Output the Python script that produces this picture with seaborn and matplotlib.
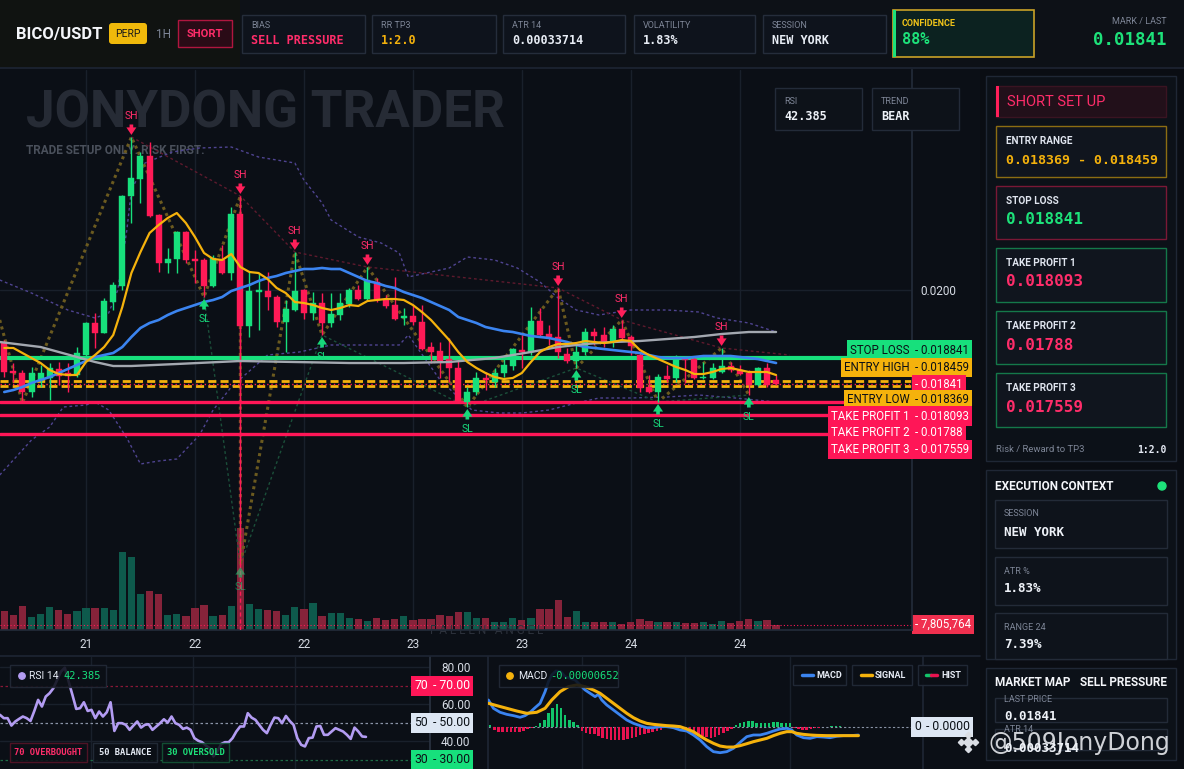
import numpy as np
import matplotlib
matplotlib.use("Agg")
import matplotlib.pyplot as plt
import seaborn as sns
from matplotlib.patches import Rectangle, FancyBboxPatch, Circle
from matplotlib.lines import Line2D
from matplotlib.transforms import Affine2D, blended_transform_factory

# ==============================================================================
# 1. Data (BICO/USDT perp, 1H)
# ==============================================================================
opens = [0.019099, 0.018623, 0.018589, 0.018266, 0.018470, 0.018504, 0.018657, 0.018589, 0.018555, 0.018895,
         0.019439, 0.019269, 0.019796, 0.020068, 0.021598, 0.021887, 0.022278, 0.021275, 0.020459, 0.020527,
         0.020986, 0.020527, 0.020510, 0.020068, 0.020510, 0.020289, 0.021292, 0.019388, 0.019966, 0.019983,
         0.019881, 0.019456, 0.019660, 0.020000, 0.019609, 0.019779, 0.019439, 0.019575, 0.019762, 0.020000,
         0.019847, 0.020136, 0.019830, 0.019745, 0.019524, 0.019558, 0.019456, 0.019031, 0.018963, 0.018827,
         0.018674, 0.018096, 0.018266, 0.018504, 0.018436, 0.018589, 0.018708, 0.018980, 0.018946, 0.019473,
         0.019252, 0.019201, 0.018912, 0.018793, 0.018946, 0.019286, 0.019235, 0.019116, 0.019337, 0.019201,
         0.018895, 0.018351, 0.018266, 0.018538, 0.018504, 0.018844, 0.018827, 0.018504, 0.018504, 0.018606,
         0.018708, 0.018640, 0.018589, 0.018385, 0.018674, 0.018470]
highs = [0.019150, 0.018759, 0.018640, 0.018691, 0.018725, 0.018759, 0.018776, 0.018759, 0.019031, 0.019456,
         0.019609, 0.019864, 0.020136, 0.021615, 0.022601, 0.022346, 0.022516, 0.021290, 0.020714, 0.021000,
         0.021000, 0.020680, 0.020544, 0.020595, 0.020765, 0.021411, 0.021598, 0.020306, 0.020289, 0.020306,
         0.019915, 0.019830, 0.020646, 0.020010, 0.019966, 0.019949, 0.019949, 0.019949, 0.020034, 0.020085,
         0.020391, 0.020204, 0.019915, 0.020221, 0.019694, 0.019745, 0.019745, 0.019116, 0.019116, 0.019184,
         0.018793, 0.018351, 0.018606, 0.018606, 0.018674, 0.018895, 0.019014, 0.019235, 0.019711, 0.019694,
         0.019405, 0.020034, 0.019014, 0.019065, 0.019354, 0.019354, 0.019371, 0.019405, 0.019490, 0.019235,
         0.018946, 0.018555, 0.018572, 0.018725, 0.018895, 0.018861, 0.018861, 0.018776, 0.018759, 0.019014,
         0.018776, 0.018725, 0.018640, 0.018691, 0.018759, 0.018555]
lows = [0.018521, 0.018436, 0.018079, 0.018181, 0.018351, 0.018130, 0.018385, 0.018266, 0.018521, 0.018861,
        0.019014, 0.019269, 0.019660, 0.020000, 0.021139, 0.021479, 0.021241, 0.020306, 0.020289, 0.020289,
        0.020459, 0.020119, 0.019881, 0.020051, 0.020270, 0.020170, 0.015325, 0.019201, 0.019320, 0.019660,
        0.019371, 0.018946, 0.019640, 0.019507, 0.019490, 0.019235, 0.019371, 0.019490, 0.019711, 0.019830,
        0.019830, 0.019796, 0.019694, 0.019490, 0.019405, 0.019405, 0.018980, 0.018759, 0.018504, 0.018436,
        0.018079, 0.018011, 0.018215, 0.018300, 0.018351, 0.018521, 0.018640, 0.018674, 0.018895, 0.019201,
        0.019065, 0.018844, 0.018759, 0.018674, 0.018895, 0.019065, 0.019031, 0.019031, 0.019150, 0.018895,
        0.018266, 0.018249, 0.018096, 0.018436, 0.018436, 0.018419, 0.018480, 0.018487, 0.018487, 0.018590,
        0.018606, 0.018555, 0.018215, 0.018368, 0.018351, 0.018385]
closes = [0.018606, 0.018589, 0.018266, 0.018589, 0.018589, 0.018674, 0.018538, 0.018538, 0.018929, 0.019439,
          0.019269, 0.019813, 0.020085, 0.021598, 0.021904, 0.022278, 0.021258, 0.020459, 0.020527, 0.020986,
          0.020510, 0.020493, 0.020068, 0.020544, 0.020289, 0.021292, 0.019388, 0.019983, 0.020000, 0.019881,
          0.019456, 0.019677, 0.019983, 0.019609, 0.019779, 0.019439, 0.019592, 0.019779, 0.020000, 0.019847,
          0.020170, 0.019830, 0.019728, 0.019507, 0.019558, 0.019456, 0.018997, 0.018946, 0.018793, 0.018674,
          0.018096, 0.018266, 0.018504, 0.018470, 0.018589, 0.018725, 0.018997, 0.018946, 0.019473, 0.019235,
          0.019201, 0.018946, 0.018793, 0.018946, 0.019286, 0.019218, 0.019116, 0.019337, 0.019184, 0.019048,
          0.018334, 0.018266, 0.018521, 0.018487, 0.018827, 0.018810, 0.018504, 0.018521, 0.018674, 0.018708,
          0.018640, 0.018572, 0.018385, 0.018674, 0.018385, 0.018410]
# volume in millions
volume = [30.4, 24.0, 38.4, 20.8, 25.6, 36.8, 32.0, 25.6, 30.4, 35.2,
          35.2, 35.2, 32.0, 124.8, 116.8, 57.6, 62.4, 57.6, 24.0, 25.6,
          22.4, 35.2, 40.0, 22.4, 24.0, 38.4, 163.2, 41.6, 33.6, 32.0,
          30.4, 24.0, 36.8, 33.6, 43.2, 22.4, 27.2, 27.2, 19.2, 17.6,
          14.4, 19.2, 16.0, 17.6, 22.4, 16.0, 17.6, 17.6, 24.0, 22.4,
          28.8, 28.8, 19.2, 19.2, 12.8, 12.8, 19.2, 16.0, 19.2, 33.6,
          33.6, 48.0, 20.8, 30.4, 12.8, 12.8, 12.8, 12.8, 9.6, 12.8,
          17.6, 14.4, 12.8, 12.8, 12.8, 11.2, 11.2, 12.8, 9.6, 14.4,
          11.2, 14.4, 17.6, 14.4, 16.0, 7.805764]

ema_fast = [0.019014, 0.019014, 0.018929, 0.018844, 0.018759, 0.018640, 0.018572, 0.018555, 0.018555, 0.018776,
            0.018895, 0.019031, 0.019235, 0.019711, 0.020289, 0.020646, 0.020969, 0.021105, 0.021224, 0.021309,
            0.021139, 0.020901, 0.020629, 0.020527, 0.020510, 0.020612, 0.020391, 0.020306, 0.020289, 0.020187,
            0.020034, 0.019949, 0.019796, 0.019779, 0.019745, 0.019694, 0.019660, 0.019694, 0.019745, 0.019728,
            0.019813, 0.019830, 0.019847, 0.019847, 0.019830, 0.019745, 0.019626, 0.019490, 0.019320, 0.019150,
            0.018946, 0.018776, 0.018674, 0.018589, 0.018521, 0.018487, 0.018504, 0.018589, 0.018776, 0.018946,
            0.019031, 0.019082, 0.019082, 0.019099, 0.019133, 0.019116, 0.019099, 0.019116, 0.019150, 0.019133,
            0.018980, 0.018895, 0.018827, 0.018759, 0.018691, 0.018640, 0.018572, 0.018572, 0.018606, 0.018657,
            0.018674, 0.018640, 0.018606, 0.018606, 0.018606, 0.018555]
ema_mid = [0.018266, 0.018300, 0.018351, 0.018419, 0.018470, 0.018521, 0.018589, 0.018657, 0.018725, 0.018793,
           0.018861, 0.018895, 0.018929, 0.019031, 0.019201, 0.019354, 0.019439, 0.019490, 0.019575, 0.019643,
           0.019694, 0.019745, 0.019796, 0.019830, 0.019881, 0.019983, 0.020034, 0.020085, 0.020153, 0.020204,
           0.020238, 0.020289, 0.020323, 0.020357, 0.020357, 0.020374, 0.020357, 0.020357, 0.020289, 0.020221,
           0.020153, 0.020119, 0.020068, 0.020034, 0.019966, 0.019915, 0.019864, 0.019796, 0.019728, 0.019660,
           0.019541, 0.019490, 0.019439, 0.019371, 0.019337, 0.019303, 0.019286, 0.019252, 0.019218, 0.019201,
           0.019184, 0.019150, 0.019116, 0.019065, 0.019031, 0.019014, 0.018997, 0.018980, 0.018963, 0.018946,
           0.018929, 0.018895, 0.018861, 0.018844, 0.018844, 0.018844, 0.018861, 0.018878, 0.018878, 0.018878,
           0.018878, 0.018861, 0.018844, 0.018827, 0.018793, 0.018759]
slow_t = [-0.5, 4, 8, 10, 12, 14, 19, 26, 32, 38, 44, 49, 54, 56, 58, 61, 64, 67, 70, 73, 76, 79, 82, 85]
slow_p = [0.019116, 0.019031, 0.018861, 0.018776, 0.018708, 0.018708, 0.018742, 0.018793, 0.018776, 0.018759,
          0.018759, 0.018776, 0.018844, 0.018895, 0.018946, 0.019031, 0.019082, 0.019116, 0.019133, 0.019167,
          0.019201, 0.019252, 0.019286, 0.019286]

bb_up_t = [-0.5, 3, 7, 10, 11.5, 12.5, 13.5, 14, 15.5, 18.5, 21.5, 25, 28, 32, 33, 35, 36, 39, 41.5, 43.5,
           44.5, 49, 51, 54, 56.5, 59, 61, 63, 65.5, 69, 73, 76.5, 78.5, 82, 85]
bb_up = [0.020170, 0.019949, 0.019660, 0.019524, 0.019609, 0.020000, 0.021020, 0.021700, 0.022159, 0.022346,
         0.022414, 0.022431, 0.022261, 0.022159, 0.021870, 0.021479, 0.021190, 0.020901, 0.020799, 0.020629,
         0.020221, 0.020374, 0.020561, 0.020510, 0.020374, 0.020136, 0.019864, 0.019660, 0.019575, 0.019660,
         0.019660, 0.019626, 0.019524, 0.019439, 0.019286]
bb_lo_t = [-0.5, 1.5, 3, 5, 6.5, 9, 10, 11.5, 13.5, 15, 17, 19, 21.5, 23, 25, 29, 32.5, 36, 43.5, 44.5,
           48, 51.5, 54.5, 57, 60, 63, 65.5, 69, 73, 76.5, 80.5, 85]
bb_lo = [0.016855, 0.017195, 0.017450, 0.017671, 0.018011, 0.018045, 0.018096, 0.017960, 0.017484, 0.017042,
         0.017093, 0.017127, 0.017535, 0.017960, 0.018351, 0.018895, 0.018946, 0.019065, 0.019065, 0.019235,
         0.018470, 0.017960, 0.017909, 0.017909, 0.017960, 0.018079, 0.018164, 0.018164, 0.018181, 0.018215,
         0.018164, 0.018096]

# swing structure
sh_idx = [14, 26, 32, 40, 61, 68, 79]
sl_idx = [22, 26, 35, 51, 63, 72, 82]
zz_t = [-0.5, 2, 14, 22, 26, 26, 32, 35, 40, 51, 61, 63, 68, 72, 79, 82]
zz_p = [0.019490, 0.018079, 0.022601, 0.019881, 0.021598, 0.015325, 0.020646, 0.019235, 0.020391, 0.018011,
        0.020034, 0.018674, 0.019490, 0.018096, 0.019014, 0.018215]
sh_tail_t, sh_tail_p = [86.5], [0.018895]

# trade plan
stop_loss = 0.018841
entry_high = 0.018459
entry_low = 0.018369
last_price = 0.01841
take_profits = [0.018093, 0.01788, 0.017559]

date_ticks = [9, 21, 33, 45, 57, 69, 81]
date_labels = ["21", "22", "22", "23", "23", "24", "24"]

# oscillators
rsi = [54.3, 52.5, 52.5, 48.5, 50.7, 52.1, 53.4, 52.5, 51.0, 56.4,
       62.4, 58.8, 64.2, 66.0, 68.7, 73.2, 77.7, 79.8, 72.3, 65.1,
       57.5, 57.9, 61.1, 56.4, 57.0, 52.5, 56.1, 53.4, 55.7, 61.1,
       45.6, 49.8, 49.8, 48.9, 46.2, 48.5, 50.7, 47.4, 48.9, 49.2,
       46.2, 48.0, 49.8, 51.9, 50.1, 53.4, 49.8, 48.9, 46.7, 47.4,
       46.2, 41.7, 40.3, 39.5, 37.7, 36.3, 31.8, 34.5, 38.5, 39.5,
       39.5, 41.7, 45.3, 48.0, 48.0, 55.2, 52.8, 51.6, 48.9, 46.2,
       44.4, 48.9, 52.8, 52.5, 49.8, 53.7, 51.0, 48.9, 41.7, 38.1,
       37.2, 41.7, 42.0, 48.0, 48.3, 43.5, 43.5, 45.3, 47.1, 46.2,
       45.3, 43.5, 41.3, 47.4, 45.3, 42.6, 42.385]
rsi_levels = [70, 50, 30]

# MACD in units of 1e-6
macd_t = [-0.4, 0.8, 2.4, 4.0, 5.6, 7.2, 8.4, 9.6, 10.8, 12.0, 13.2, 14.0, 14.8, 15.8, 17.0, 18.0, 19.2, 20.4,
          21.6, 22.8, 24.0, 25.2, 26.0, 26.8, 28.0, 29.6, 31.2, 32.8, 34.4, 36.0, 37.6, 39.2, 40.8, 42.4, 44.0,
          45.6, 47.2, 48.8, 50.4, 52.0, 53.6, 55.2, 56.8, 58.4, 60.0, 61.6, 63.2, 64.8, 66.4, 68.0, 69.6, 71.2,
          72.4, 73.6, 75.2, 76.8, 78.4, 80.0, 81.6, 83.2, 84.8, 86.4, 88.4]
macd = [20.8, 14.3, 11.2, 9.6, 8.6, 7.3, 8.6, 11.2, 14.8, 18.2, 27.3, 35.1, 40.3, 43.4, 42.9, 39.0, 37.7, 36.4,
        32.5, 28.6, 26.0, 23.4, 25.2, 20.8, 16.9, 13.0, 9.1, 5.2, 2.6, 0.8, -0.8, -0.8, 0.0, 0.0, -0.8,
        -2.6, -3.4, -6.5, -10.4, -15.6, -19.5, -20.3, -19.5, -16.9, -12.2, -7.8, -6.5, -6.5, -5.2, -3.4, -1.8, -1.3,
        -2.6, -6.5, -8.6, -9.1, -7.8, -8.1, -8.6, -7.5, -7.0, -7.0, -6.52]
signal_t = [-0.4, 1.6, 4.0, 6.4, 8.8, 11.2, 13.2, 14.8, 16.8, 18.8, 20.8, 22.8, 24.8, 26.4, 28.0, 29.6, 31.2,
            32.8, 34.4, 36.0, 37.6, 39.2, 40.8, 42.4, 44.0, 45.6, 47.2, 48.8, 50.4, 52.0, 53.6, 55.2, 56.8, 58.4,
            60.0, 61.6, 63.2, 64.8, 66.4, 68.0, 69.6, 71.2, 72.4, 73.6, 75.2, 76.8, 78.4, 80.8, 83.2, 85.6, 88.4]
signal = [18.2, 16.4, 14.3, 12.2, 10.4, 11.2, 14.3, 20.8, 27.3, 31.2, 32.5, 31.2, 28.6, 26.0, 22.1, 18.2, 14.3,
          10.4, 7.0, 4.4, 2.6, 1.8, 1.3, 0.8, 0.5, 0.0, -1.8, -3.9, -7.3, -10.4, -13.0, -15.1, -15.9, -15.9,
          -14.8, -13.3, -11.7, -10.4, -9.1, -7.0, -5.2, -3.9, -3.9, -5.2, -6.0, -6.5, -6.8, -7.0, -7.0, -7.0, -7.0]
hist = [1.3, -2.6, -3.9, -4.4, -4.4, -4.4, -4.4, -4.4, -3.4, -1.8,
        -0.8, 0.8, 2.6, 5.2, 10.4, 14.8, 17.4, 14.3, 9.1, 5.2,
        3.9, 1.3, -3.4, -5.2, -6.0, -6.0, -7.0, -9.1, -9.6, -10.4,
        -10.4, -10.4, -10.4, -9.9, -9.1, -7.8, -6.5, -6.0, -5.2, -4.4,
        -3.4, -2.6, -1.3, -0.8, -0.3, -0.5, -1.3, -2.6, -4.4, -6.0,
        -6.5, -7.0, -7.8, -8.6, -7.8, -6.5, -5.2, -3.4, -1.8, 1.3,
        2.6, 3.9, 4.7, 4.7, 3.1, 2.6, 3.1, 3.1, 3.4, 3.4,
        3.1, 3.1, 2.6, -1.3, -1.8, -2.6, -2.3, -1.8, -1.3, -0.8,
        -0.5, -0.5, 0.5, 0.5, 0.5, -0.5, -0.5, -0.5, -0.5]

# ==============================================================================
# 2. Styling
# ==============================================================================
BG = "#0b0f16"
GRID = "#19202b"
EDGE = "#232b39"
TXT = "#d6dbe4"
MUTED = "#7d8596"
GREEN = "#17e07c"
RED = "#ff1a56"
PINK = "#ff1657"
YELLOW = "#f5b20c"
BLUE = "#3b84f0"
LIGHT = "#dde6f3"
DARK = "#0b1016"

sns.set_theme(style="dark", rc={
    "axes.facecolor": BG, "figure.facecolor": BG, "axes.edgecolor": EDGE,
    "text.color": TXT, "xtick.color": TXT, "ytick.color": TXT,
})
plt.rcParams["font.family"] = ["Roboto", "DejaVu Sans"]
NARROW = ["Roboto", "DejaVu Sans"]
MONO = ["DejaVu Sans Mono"]

W, H = 1184, 769
fig = plt.figure(figsize=(W / 100, H / 100), dpi=100)
PX = Affine2D().scale(1 / W, -1 / H).translate(0, 1) + fig.transFigure


def rect(x0, y0, x1, y1):
    return [x0 / W, 1 - y1 / H, (x1 - x0) / W, (y1 - y0) / H]


def box(x0, y0, x1, y1, fc, ec="none", lw=1.0, z=20, alpha=1.0, r=0):
    if r:
        p = FancyBboxPatch((x0, y0), x1 - x0, y1 - y0, boxstyle=f"round,pad=0,rounding_size={r}",
                           transform=PX, fc=fc, ec=ec, lw=lw, zorder=z, alpha=alpha)
    else:
        p = Rectangle((x0, y0), x1 - x0, y1 - y0, transform=PX, fc=fc, ec=ec, lw=lw, zorder=z, alpha=alpha)
    fig.add_artist(p)


def txt(x, y, s, size=8, color=TXT, weight="normal", ha="left", family=None, z=21, alpha=1.0):
    kw = dict(transform=PX, fontsize=size, color=color, fontweight=weight, ha=ha, va="center",
              zorder=z, alpha=alpha)
    if family:
        kw["family"] = family
    fig.text(x, y, s, **kw)


def hline(x0, x1, y, color=EDGE, lw=1.0, z=19):
    fig.add_artist(Line2D([x0, x1], [y, y], transform=PX, color=color, lw=lw, zorder=z))


def tag(axis, yval, text, fc, tc, dy=0.0, side="right", size=8.3):
    tr = blended_transform_factory(axis.transAxes, axis.transData)
    dx = 2.0 if side == "right" else -1.5
    axis.annotate(text, xy=(1, yval), xycoords=tr, xytext=(dx, dy), textcoords="offset points",
                  ha="left" if side == "right" else "right", va="center", fontsize=size, color=tc,
                  family=NARROW, bbox=dict(boxstyle="square,pad=0.28", fc=fc, ec="none"),
                  annotation_clip=False, zorder=9)


# background blocks
box(0, 0, W, 67, "#0d1117", z=-5)
box(0, 0, 240, 67, "#12140f", z=-4.5, alpha=0.7)
box(980, 67, W, H, "#0a0d13", z=-5)
hline(0, W, 67.5, "#1e2533", 1.2, z=-4)

# ==============================================================================
# 3. Main price chart with volume underlay
# ==============================================================================
t = np.arange(len(opens))
o, hi, lo, cl = (np.array(a) for a in (opens, highs, lows, closes))
up = cl >= o
ccol = np.where(up, GREEN, RED)

ax_v = fig.add_axes(rect(0, 70, 912, 630))
ax = fig.add_axes(rect(0, 70, 912, 630), sharex=ax_v)
ax_v.set_facecolor(BG)
ax.patch.set_alpha(0)

ax_v.bar(t, volume, width=0.8, color=np.where(up, "#0e5a4c", "#86233a"), linewidth=0, zorder=2)
ax_v.axhline(volume[-1], color=RED, lw=0.8, ls=(0, (1, 2)), zorder=3)
ax_v.set_ylim(0, 896)
ax_v.set_yticks([])
ax_v.grid(axis="x", color=GRID, lw=1)
ax_v.tick_params(axis="x", labelbottom=False, length=0)
for s in ax_v.spines.values():
    s.set_visible(False)

ax.set_xlim(-0.47, 99.97)
ax.set_ylim(0.01422, 0.02374)
ax.set_xticks(date_ticks)
ax.set_xticklabels(date_labels)
ax.set_yticks([0.0200])
ax.set_yticklabels(["0.0200"])
ax.yaxis.tick_right()
ax.tick_params(axis="x", length=0, pad=6, labelsize=8.5, labelcolor=TXT)
ax.tick_params(axis="y", length=0, pad=6, labelsize=8.5, labelcolor=TXT)
ax.grid(axis="y", color=GRID, lw=1)
ax.grid(axis="x", visible=False)
for name, s in ax.spines.items():
    s.set_visible(name in ("right", "bottom"))
    s.set_color("#232b39")

# watermark text (behind candles)
ax.text(26, 113, "JONYDONG TRADER", transform=PX, fontsize=37, fontweight="bold", color="#262b35",
        family=NARROW, va="center", zorder=0.5)
ax.text(26, 150, "TRADE SETUP ONLY. RISK FIRST.", transform=PX, fontsize=8.5, fontweight="bold",
        color="#4a505b", family=NARROW, va="center", zorder=0.5)
ax.text(487, 631, "F A L L E N   A N G E L", transform=PX, fontsize=8.5, color="#2c313b",
        family=NARROW, ha="center", va="center", zorder=0.5)

# bands, swing lines
ax.plot(bb_up_t, bb_up, color="#4f4491", lw=1.0, ls=(0, (2, 2)), zorder=1.5)
ax.plot(bb_lo_t, bb_lo, color="#4f4491", lw=1.0, ls=(0, (2, 2)), zorder=1.5)
ax.plot(zz_t, zz_p, color="#6b5a1f", lw=2.2, ls=(0, (1, 1.2)), zorder=1.6)
ax.plot(sh_idx + sh_tail_t, list(hi[sh_idx]) + sh_tail_p, color="#5e1a2d", lw=1.0, ls=(0, (2, 2)), zorder=1.5)
ax.plot(sl_idx, lo[sl_idx], color="#1b4f3a", lw=1.0, ls=(0, (2, 2)), zorder=1.5)

# trade levels
ax.axhline(stop_loss, color=GREEN, lw=3.0, zorder=2.5)
for lvl in (entry_high, entry_low):
    ax.axhline(lvl, color=YELLOW, lw=2.0, ls=(0, (2.9, 1.5)), zorder=2.5)
for tp in take_profits:
    ax.axhline(tp, color=PINK, lw=2.4, zorder=2.5)
ax.axhline(last_price, color=RED, lw=1.0, ls=(0, (1, 2)), zorder=2.6)

# candles
ax.vlines(t, lo, hi, colors=ccol, lw=1.0, zorder=3)
ax.bar(t, cl - o, bottom=o, width=0.66, color=ccol, edgecolor=ccol, lw=0.3, zorder=3.1)
spike = int(np.argmin(lo))
ax.vlines(spike, 0.01422, hi[spike], colors=RED, lw=1.0, ls=(0, (3, 2)), zorder=3.2)

# moving averages
sns.lineplot(x=t, y=ema_mid, ax=ax, color=BLUE, lw=1.9, zorder=4)
sns.lineplot(x=slow_t, y=slow_p, ax=ax, color="#a3a8b0", lw=1.7, zorder=4)
sns.lineplot(x=t, y=ema_fast, ax=ax, color=YELLOW, lw=1.6, zorder=4.1)
ax.set_ylim(0.01422, 0.02374)
ax.set_xlabel("")
ax.set_ylabel("")

# swing markers
arrow = "simple,head_length=0.45,head_width=0.6,tail_width=0.22"
for i in sh_idx:
    ax.annotate("", xy=(i, hi[i]), xytext=(0, 9), textcoords="offset points",
                arrowprops=dict(arrowstyle=arrow, fc="#ff1f5a", ec="none", shrinkA=0, shrinkB=1.5), zorder=6)
    ax.annotate("SH", xy=(i, hi[i]), xytext=(0, 15), textcoords="offset points", ha="center", va="center",
                fontsize=7.5, color="#ff2d6a", zorder=6)
for i in sl_idx:
    a = 0.55 if i == spike else 1.0
    ax.annotate("", xy=(i, lo[i]), xytext=(0, -9), textcoords="offset points",
                arrowprops=dict(arrowstyle=arrow, fc="#17d77a", ec="none", shrinkA=0, shrinkB=1.5, alpha=a),
                zorder=6)
    ax.annotate("SL", xy=(i, lo[i]), xytext=(0, -16), textcoords="offset points", ha="center", va="center",
                fontsize=7.5, color="#17d77a", alpha=a, zorder=6)

# price tags on the right scale
tag(ax, stop_loss, "STOP LOSS", GREEN, DARK, dy=5.8, side="left")
tag(ax, stop_loss, f"- {stop_loss}", GREEN, DARK, dy=5.8)
tag(ax, entry_high, "ENTRY HIGH", YELLOW, DARK, dy=9.4, side="left")
tag(ax, entry_high, f"- {entry_high}", YELLOW, DARK, dy=9.4)
tag(ax, last_price, f"- {last_price}", RED, "white", dy=-0.7)
tag(ax, entry_low, "ENTRY LOW", YELLOW, DARK, dy=-10, side="left")
tag(ax, entry_low, f"- {entry_low}", YELLOW, DARK, dy=-10)
for k, (tp, dy) in enumerate(zip(take_profits, (-10, -13, -11.5))):
    tag(ax, tp, f"TAKE PROFIT {k + 1}", PINK, "white", dy=dy, side="left")
    tag(ax, tp, f"- {tp}", PINK, "white", dy=dy)
tag(ax_v, volume[-1], f"- {volume[-1] * 1e6:,.0f}", "#f0304f", "white", dy=0.5)

# RSI / TREND chips on chart
for x0, lab, val in ((775, "RSI", f"{rsi[-1]:.3f}"), (872, "TREND", "BEAR")):
    box(x0, 88, x0 + 87, 130, "#0d1219", EDGE)
    txt(x0 + 9, 101, lab, 6.5, MUTED)
    txt(x0 + 9, 116, val, 8.5, "#eef2f8", "bold", family=MONO)

# ==============================================================================
# 4. RSI panel
# ==============================================================================
ax_r = fig.add_axes(rect(0, 657, 430, 769))
ax_r.set_facecolor(BG)
rx = np.arange(len(rsi))
sns.lineplot(x=rx, y=rsi, ax=ax_r, color="#b39cf2", lw=1.9, zorder=3)
ax_r.set_xlim(0, 112.8)
ax_r.set_ylim(25.0, 85.6)
ax_r.set_yticks([80, 60, 40])
ax_r.set_yticklabels(["80.00", "60.00", "40.00"])
ax_r.yaxis.tick_right()
ax_r.set_xticks([24, 50.7, 77.4])
ax_r.tick_params(axis="x", length=0, labelbottom=False)
ax_r.tick_params(axis="y", length=0, pad=8, labelsize=8.5, labelcolor=TXT)
ax_r.grid(True, color=GRID, lw=1)
ax_r.set_xlabel("")
ax_r.set_ylabel("")
for lvl, col in zip(rsi_levels, ("#8a1836", "#8a93a6", "#1b6b45")):
    ax_r.axhline(lvl, color=col, lw=0.9, ls=(0, (2, 2)), zorder=2)
for name, s in ax_r.spines.items():
    s.set_visible(name == "right")
    s.set_color("#2a3240")
for lvl, fc, tc in zip(rsi_levels, (PINK, LIGHT, GREEN), ("white", DARK, DARK)):
    tag(ax_r, lvl, f"{lvl}", fc, tc, side="left", size=8.8)
    tag(ax_r, lvl, f"- {lvl:.2f}", fc, tc, size=8.8)

box(10, 665, 106, 687, BG, "#232b39", alpha=0.88)
fig.add_artist(Circle((22, 676), 3.2, transform=PX, color="#b39cf2", zorder=22))
txt(29, 676, "RSI 14", 7.5, "#e6ebf5")
txt(63, 676, f"{rsi[-1]:.3f}", 7.5, GREEN, family=MONO)
for x0, x1, s, ec, tc in ((10, 87, "70 OVERBOUGHT", "#5a1428", "#ff2d6a"),
                          (93, 157, "50 BALANCE", "#262e3b", "#e6ebf5"),
                          (162, 229, "30 OVERSOLD", "#145a39", "#1de27a")):
    box(x0, 743, x1, 762, BG, ec, alpha=0.85)
    txt((x0 + x1) / 2, 752.5, s, 6.3, tc, "bold", ha="center", family=MONO)

# ==============================================================================
# 5. MACD panel
# ==============================================================================
ax_m = fig.add_axes(rect(488, 657, 923, 769))
ax_m.set_facecolor(BG)
hx = np.arange(len(hist))
ax_m.bar(hx, hist, width=0.6, color=np.where(np.array(hist) >= 0, "#12c46a", "#e8124f"), linewidth=0, zorder=2)
sns.lineplot(x=macd_t, y=macd, ax=ax_m, color=BLUE, lw=2.0, zorder=3)
sns.lineplot(x=signal_t, y=signal, ax=ax_m, color=YELLOW, lw=2.2, zorder=3.1)
ax_m.axhline(0, color="#8a93a6", lw=0.8, ls=(0, (2, 2)), zorder=1.5)
ax_m.set_xlim(-0.5, 103.9)
ax_m.set_ylim(-33, 54.3)
ax_m.set_xticks([22.1, 46.8, 72.0])
ax_m.set_yticks([])
ax_m.tick_params(axis="x", length=0, labelbottom=False)
ax_m.grid(axis="x", color=GRID, lw=1)
ax_m.set_xlabel("")
ax_m.set_ylabel("")
for name, s in ax_m.spines.items():
    s.set_visible(name in ("left", "right"))
    s.set_color("#1e2533")
tag(ax_m, 0, "0", LIGHT, DARK, side="left", size=8.8)
tag(ax_m, 0, "- 0.0000", LIGHT, DARK, size=8.8)

box(499, 665, 618, 687, BG, "#232b39", alpha=0.88)
fig.add_artist(Circle((510, 676), 3.2, transform=PX, color=YELLOW, zorder=22))
txt(518, 676, "MACD", 7.5, "#e6ebf5")
txt(550, 676, f"{macd[-1] * 1e-6:.8f}", 7.5, GREEN, family=MONO)
for x0, x1, lab, sw in ((793, 846, "MACD", BLUE), (852, 912, "SIGNAL", YELLOW), (918, 967, "HIST", None)):
    box(x0, 665, x1, 685, BG, "#232b39", alpha=0.9)
    if sw:
        hline(x0 + 9, x0 + 20, 675, sw, 2.5, z=22)
    else:
        hline(x0 + 8, x0 + 13, 675, "#12c46a", 2.5, z=22)
        hline(x0 + 13, x0 + 19, 675, "#e8124f", 2.5, z=22)
    txt(x0 + 23, 675, lab, 6.5, "#e6ebf5", "bold")

hline(0, 980, 656, "#1e2533", 1.2)

# ==============================================================================
# 6. Header
# ==============================================================================
txt(16, 34, "BICO/USDT", 12, "#f4f6fa", "bold")
box(109, 23, 147, 44, "#f0b90b", r=3)
txt(128, 34, "PERP", 7.5, "#1a1a1a", ha="center")
txt(156, 34, "1H", 8.5, MUTED)
box(178, 20, 232, 47, "#2a0b16", "#b0163f")
txt(205, 34, "SHORT", 8, "#ff2d6a", "bold", ha="center")
for x0, x1, lab, val, col in ((242, 365, "BIAS", "SELL PRESSURE", "#ff2d6a"),
                              (372, 496, "RR TP3", "1:2.0", YELLOW),
                              (503, 625, "ATR 14", "0.00033714", "#e8edf5"),
                              (634, 755, "VOLATILITY", "1.83%", "#e8edf5"),
                              (763, 886, "SESSION", "NEW YORK", "#e8edf5")):
    box(x0, 15, x1, 53, "#0e131c", "#252d3b")
    txt(x0 + 9, 26, lab, 6.5, MUTED)
    txt(x0 + 9, 40, val, 8.5, col, "bold", family=MONO)
box(893, 10, 1034, 57, "#0c2220", "#c9a227", lw=1.2)
box(893, 10, 896, 57, "#1de27a")
txt(902, 23, "CONFIDENCE", 6.5, "#f0c419", "bold")
txt(902, 40, "88%", 11, "#1de27a", "bold", family=MONO)
txt(1167, 22, "MARK / LAST", 6.5, MUTED, ha="right")
txt(1167, 40, "0.01841", 12.5, "#1de27a", "bold", ha="right", family=MONO)

# ==============================================================================
# 7. Right side panels
# ==============================================================================
box(986, 76, 1176, 461, "#0c1118", "#1f2735")
box(996, 86, 1166, 117, "#22101a", "#3a1422")
box(996, 86, 999, 117, "#ff1f5a")
txt(1007, 102, "SHORT SET UP", 10.5, "#ff2d6a")
cards = [(126, 177, "ENTRY RANGE", f"{entry_low} - {entry_high}", YELLOW, "#8c6d12", 9.5),
         (186, 239, "STOP LOSS", f"{stop_loss}", "#1de27a", "#7a1836", 11.5),
         (248, 302, "TAKE PROFIT 1", f"{take_profits[0]}", "#ff2d6a", "#14784a", 11.5),
         (311, 364, "TAKE PROFIT 2", f"{take_profits[1]}", "#ff2d6a", "#14784a", 11.5),
         (373, 427, "TAKE PROFIT 3", f"{take_profits[2]}", "#ff2d6a", "#14784a", 11.5)]
for y0, y1, lab, val, col, ec, fs in cards:
    box(996, y0, 1166, y1, "#10151e", ec)
    txt(1006, y0 + 15, lab, 7.2, "#dfe4ee", "bold")
    txt(1006, y0 + 34, val, fs, col, "bold", family=MONO)
hline(996, 1166, 436, "#2a3240")
txt(996, 450, "Risk / Reward to TP3", 6.8, MUTED)
txt(1166, 450, "1:2.0", 7, "#e6ebf5", "bold", ha="right", family=MONO)

box(986, 470, 1176, 659, "#0c1118", "#1f2735")
txt(995, 486, "EXECUTION CONTEXT", 8.5, "#f4f6fa", "bold")
fig.add_artist(Circle((1162, 486), 4, transform=PX, color="#1de27a", zorder=22))
for y0, lab, val in ((500, "SESSION", "NEW YORK"), (557, "ATR %", "1.83%"), (613, "RANGE 24", "7.39%")):
    box(995, y0, 1167, min(y0 + 48, 659), "#0e131b", "#232b38")
    txt(1004, y0 + 14, lab, 6.5, MUTED)
    txt(1004, y0 + 32, val, 9, "#eef2f8", "bold", family=MONO)

box(986, 668, 1176, 760, "#0c1118", "#1f2735")
txt(995, 683, "MARKET MAP", 8.5, "#f4f6fa", "bold")
txt(1167, 683, "SELL PRESSURE", 8.5, "#f4f6fa", "bold", ha="right")
box(995, 698, 1167, 722, "#0e131b", "#232b38")
txt(1004, 700, "LAST PRICE", 6.5, MUTED)
txt(1004, 717, f"{last_price}", 9, "#eef2f8", "bold", family=MONO)
box(995, 729, 1167, 750, "#0e131b", "#232b38")
txt(1004, 730, "ATR 14", 6.5, MUTED)
txt(1004, 748, "0.00033714", 9, "#eef2f8", "bold", family=MONO)

# corner watermark
for (dx, dy, ms) in ((0, 0, 5), (-7, 0, 3.2), (7, 0, 3.2), (0, -7, 3.2), (0, 7, 3.2)):
    fig.add_artist(Line2D([968 + dx], [742 + dy], transform=PX, marker="D", ms=ms, ls="none",
                          color="#d9dde4", zorder=30))
txt(988, 743, "@509JonyDong", 17, "#f2f4f8", z=30, alpha=0.85, family=["DejaVu Sans"])

fig.savefig("out.png", dpi=100, facecolor=fig.get_facecolor())
